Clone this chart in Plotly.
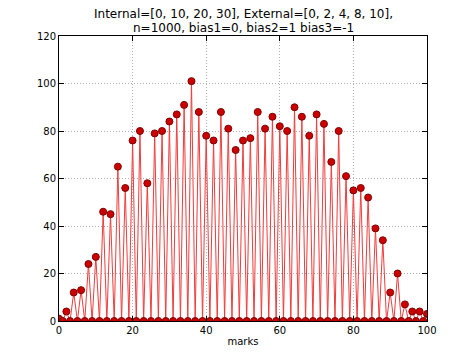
import plotly.graph_objects as go

marks = list(range(0, 101))
even_counts = [1, 4, 12, 13, 24, 27, 46, 45, 65, 56, 76, 80, 58, 79, 80, 84, 87, 91, 101,
               88, 78, 76, 88, 81, 72, 76, 77, 88, 81, 86, 82, 80, 90, 86, 78, 87, 83,
               67, 80, 61, 55, 56, 52, 39, 34, 12, 20, 7, 4, 4, 3]
odd_counts = [0] * 50
counts = []
for i in range(50):
    counts.append(even_counts[i])
    counts.append(odd_counts[i])
counts.append(even_counts[50])

x_ticks = [0, 20, 40, 60, 80, 100]
y_ticks = [0, 20, 40, 60, 80, 100, 120]
title_lines = ["Internal=[0, 10, 20, 30], External=[0, 2, 4, 8, 10],",
               "n=1000, bias1=0, bias2=1 bias3=-1"]

fig = go.Figure()
fig.add_trace(go.Scatter(
    x=marks, y=counts, mode="lines+markers",
    line=dict(color="#f03c3c", width=1),
    marker=dict(color="#cc0000", size=7, line=dict(color="#800000", width=1)),
    cliponaxis=True, showlegend=False,
))

axis_common = dict(
    showline=True, linecolor="black", linewidth=1, mirror="allticks",
    ticks="inside", ticklen=5, tickcolor="black",
    showgrid=True, gridcolor="#b0b0b0", griddash="1px,2px", gridwidth=1,
    zeroline=False,
    tickfont=dict(family="DejaVu Sans", size=10, color="black"),
)

for line_text, shift in zip(title_lines, [22, 8]):
    fig.add_annotation(
        text=line_text, xref="paper", yref="paper", x=0.5, y=1,
        xanchor="center", yanchor="middle", yshift=shift, showarrow=False,
        font=dict(family="DejaVu Sans", size=12, color="black"),
    )

fig.update_layout(
    width=474, height=357,
    margin=dict(l=59, r=47, t=36, b=36),
    paper_bgcolor="white", plot_bgcolor="white",
    xaxis=dict(range=[0, 100], tickvals=x_ticks,
               title=dict(text="marks", standoff=2,
                          font=dict(family="DejaVu Sans", size=10, color="black")),
               **axis_common),
    yaxis=dict(range=[0, 120], tickvals=y_ticks, **axis_common),
)

fig.write_html("out.html", config={"displayModeBar": False},
               post_script="document.body.style.margin='0';document.body.style.overflow='hidden';")
